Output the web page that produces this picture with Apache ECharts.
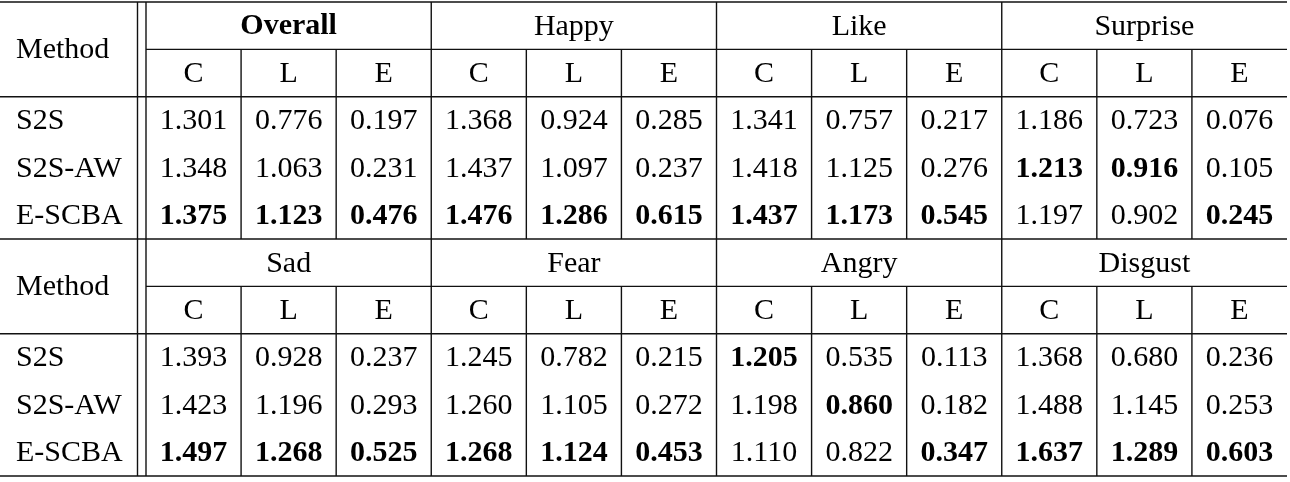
<!DOCTYPE html>
<html>
<head>
<meta charset="utf-8">
<script src="https://cdn.jsdelivr.net/npm/echarts@6/dist/echarts.min.js"></script>
<style>
html,body{margin:0;padding:0;background:#fff;}
#chart{width:1290px;height:482px;}
</style>
</head>
<body>
<div id="chart"></div>
<script>
// ---- data ----
const methodHeader = 'Method';
const methods = ['S2S', 'S2S-AW', 'E-SCBA'];
const subCols = ['C', 'L', 'E'];
const groupsTop = ['Overall', 'Happy', 'Like', 'Surprise'];
const groupsBottom = ['Sad', 'Fear', 'Angry', 'Disgust'];
// values: [method][C, L, E]
const overall  = [[1.301, 0.776, 0.197], [1.348, 1.063, 0.231], [1.375, 1.123, 0.476]];
const happy    = [[1.368, 0.924, 0.285], [1.437, 1.097, 0.237], [1.476, 1.286, 0.615]];
const like     = [[1.341, 0.757, 0.217], [1.418, 1.125, 0.276], [1.437, 1.173, 0.545]];
const surprise = [[1.186, 0.723, 0.076], [1.213, 0.916, 0.105], [1.197, 0.902, 0.245]];
const sad      = [[1.393, 0.928, 0.237], [1.423, 1.196, 0.293], [1.497, 1.268, 0.525]];
const fear     = [[1.245, 0.782, 0.215], [1.260, 1.105, 0.272], [1.268, 1.124, 0.453]];
const angry    = [[1.205, 0.535, 0.113], [1.198, 0.860, 0.182], [1.110, 0.822, 0.347]];
const disgust  = [[1.368, 0.680, 0.236], [1.488, 1.145, 0.253], [1.637, 1.289, 0.603]];
const boldGroupHeaders = ['Overall'];

// ---- style constants ----
const FONT_FAMILY = '"Liberation Serif", "DejaVu Serif", serif';
const FONT_SIZE = 30;
const LEFT_PAD = 16;
const DOUBLE_GAP = 8.5;
const LINE_COLOR = '#111';
const LINE_W = 1.4;

// ---- build table cells (in table units) ----
const blocks = [
  { groups: groupsTop, values: [overall, happy, like, surprise] },
  { groups: groupsBottom, values: [sad, fear, angry, disgust] }
];
const dataCells = [];   // grid 1
const methodCells = []; // grid 0
blocks.forEach((blk, b) => {
  const r0 = b * 5;
  methodCells.push({ v: [0, 1, r0, r0 + 2], text: methodHeader, bold: false });
  methods.forEach((m, i) => methodCells.push({ v: [0, 1, r0 + 2 + i, r0 + 3 + i], text: m, bold: false }));
  blk.groups.forEach((g, gi) => {
    dataCells.push({ v: [gi * 3, gi * 3 + 3, r0, r0 + 1], text: g, bold: boldGroupHeaders.indexOf(g) >= 0 });
    subCols.forEach((s, si) => {
      const col = gi * 3 + si;
      dataCells.push({ v: [col, col + 1, r0 + 1, r0 + 2], text: s, bold: false });
      const colVals = blk.values[gi].map(row => row[si]);
      const mx = Math.max.apply(null, colVals);
      blk.values[gi].forEach((row, mi) => {
        dataCells.push({ v: [col, col + 1, r0 + 2 + mi, r0 + 3 + mi], text: row[si].toFixed(3), bold: row[si] === mx });
      });
    });
  });
});

// rules: [x1, y1, x2, y2, kind]
const methodRules = [];
const dataRules = [];
[0, 2, 5, 7, 10].forEach(y => { methodRules.push([0, y, 1, y, 0]); dataRules.push([0, y, 12, y, 0]); });
[1, 6].forEach(y => dataRules.push([0, y, 12, y, 0]));
methodRules.push([1, 0, 1, 10, 1]); // double vertical line
[0, 1].forEach(b => {
  const r0 = b * 5;
  for (let x = 1; x < 12; x++) {
    if (x % 3 === 0) dataRules.push([x, r0, x, r0 + 5, 0]);
    else dataRules.push([x, r0 + 1, x, r0 + 5, 0]);
  }
});

function makeCellRenderer(list, leftAlign) {
  return function (params, api) {
    const c = list[params.dataIndex];
    const p0 = api.coord([api.value(0), api.value(2)]);
    const p1 = api.coord([api.value(1), api.value(3)]);
    const x = leftAlign ? p0[0] + LEFT_PAD : (p0[0] + p1[0]) / 2;
    const y = (p0[1] + p1[1]) / 2 + 1;
    return {
      type: 'text',
      style: {
        x: x, y: y, text: c.text, fill: '#000',
        font: (c.bold ? 'bold ' : '') + FONT_SIZE + 'px ' + FONT_FAMILY,
        align: leftAlign ? 'left' : 'center', textAlign: leftAlign ? 'left' : 'center',
        verticalAlign: 'middle', textVerticalAlign: 'middle'
      }
    };
  };
}
function ruleRenderer(params, api) {
  const p0 = api.coord([api.value(0), api.value(1)]);
  const p1 = api.coord([api.value(2), api.value(3)]);
  const style = { stroke: LINE_COLOR, lineWidth: LINE_W };
  if (api.value(4) === 1) {
    return {
      type: 'group', children: [
        { type: 'line', shape: { x1: p0[0] - DOUBLE_GAP, y1: p0[1], x2: p1[0] - DOUBLE_GAP, y2: p1[1] }, style: style },
        { type: 'line', shape: { x1: p0[0], y1: p0[1], x2: p1[0], y2: p1[1] }, style: style }
      ]
    };
  }
  return { type: 'line', shape: { x1: p0[0], y1: p0[1], x2: p1[0], y2: p1[1] }, style: style };
}

const chart = echarts.init(document.getElementById('chart'), null, { renderer: 'canvas' });
chart.setOption({
  animation: false,
  backgroundColor: '#fff',
  grid: [
    { left: 0, top: 2, width: 146, height: 474 },
    { left: 146, top: 2, width: 1141, height: 474 }
  ],
  xAxis: [
    { gridIndex: 0, type: 'value', min: 0, max: 1, show: false },
    { gridIndex: 1, type: 'value', min: 0, max: 12, show: false }
  ],
  yAxis: [
    { gridIndex: 0, type: 'value', min: 0, max: 10, inverse: true, show: false },
    { gridIndex: 1, type: 'value', min: 0, max: 10, inverse: true, show: false }
  ],
  series: [
    { type: 'custom', xAxisIndex: 0, yAxisIndex: 0, renderItem: ruleRenderer, data: methodRules, silent: true, clip: false },
    { type: 'custom', xAxisIndex: 1, yAxisIndex: 1, renderItem: ruleRenderer, data: dataRules, silent: true, clip: false },
    { type: 'custom', xAxisIndex: 0, yAxisIndex: 0, renderItem: makeCellRenderer(methodCells, true), data: methodCells.map(c => c.v), silent: true, clip: false },
    { type: 'custom', xAxisIndex: 1, yAxisIndex: 1, renderItem: makeCellRenderer(dataCells, false), data: dataCells.map(c => c.v), silent: true, clip: false }
  ]
});
</script>
</body>
</html>
